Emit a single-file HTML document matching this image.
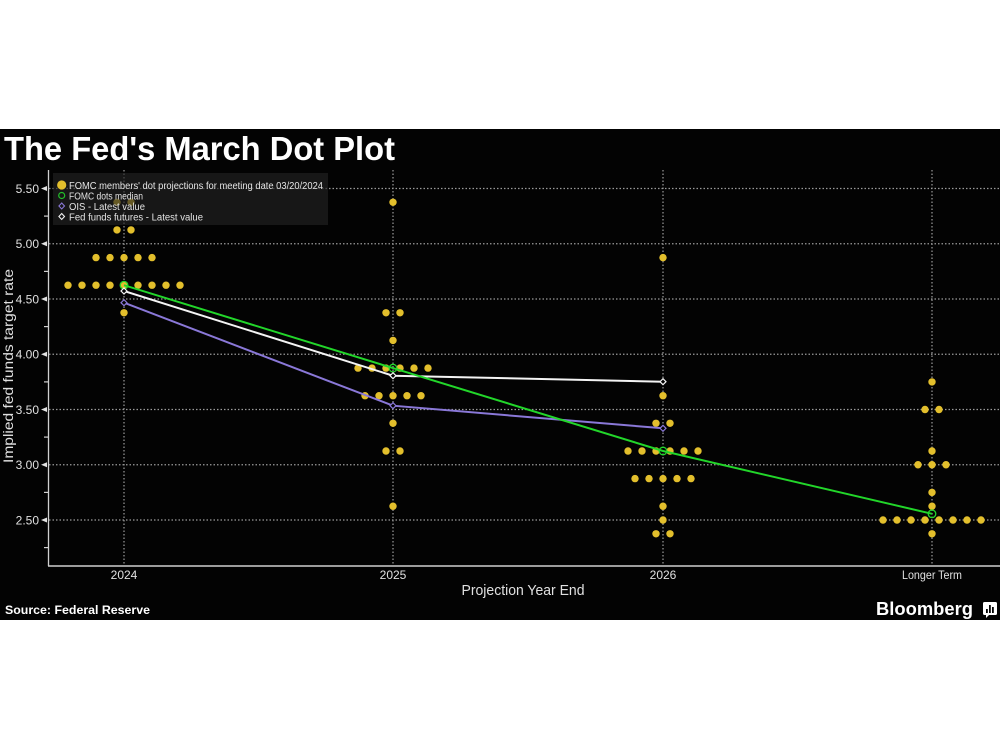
<!DOCTYPE html>
<html>
<head>
<meta charset="utf-8">
<style>
html,body{margin:0;padding:0;background:#fff;}
body{width:1000px;height:750px;overflow:hidden;}
svg{display:block;}
</style>
</head>
<body>
<svg width="1000" height="750" viewBox="0 0 1000 750" xmlns="http://www.w3.org/2000/svg">
  <rect x="0" y="0" width="1000" height="750" fill="#ffffff"/>
  <rect x="0" y="129" width="1000" height="491" fill="#030303"/>

  <!-- Title -->
  <text x="4" y="160" font-family="Liberation Sans, sans-serif" font-weight="bold" font-size="33" fill="#ffffff" textLength="391" lengthAdjust="spacingAndGlyphs">The Fed's March Dot Plot</text>

  <!-- Horizontal gridlines -->
  <g stroke="#9a9a9a" stroke-width="1.2" stroke-dasharray="1.5,2">
    <line x1="49" y1="188.5" x2="1000" y2="188.5"/>
    <line x1="49" y1="243.75" x2="1000" y2="243.75"/>
    <line x1="49" y1="299" x2="1000" y2="299"/>
    <line x1="49" y1="354.25" x2="1000" y2="354.25"/>
    <line x1="49" y1="409.5" x2="1000" y2="409.5"/>
    <line x1="49" y1="464.75" x2="1000" y2="464.75"/>
    <line x1="49" y1="520" x2="1000" y2="520"/>
  </g>
  <!-- Vertical gridlines -->
  <g stroke="#9a9a9a" stroke-width="1.2" stroke-dasharray="1.5,2">
    <line x1="124" y1="170" x2="124" y2="566"/>
    <line x1="393" y1="170" x2="393" y2="566"/>
    <line x1="663" y1="170" x2="663" y2="566"/>
    <line x1="932" y1="170" x2="932" y2="566"/>
  </g>

  <!-- Axes -->
  <line x1="48.5" y1="170" x2="48.5" y2="566" stroke="#d0d0d0" stroke-width="1.3"/>
  <line x1="48" y1="566" x2="1000" y2="566" stroke="#d0d0d0" stroke-width="1.5"/>

  <!-- Y ticks: major -->
  <g fill="#e0e0e0">
    <polygon points="41,188.5 47,186 47,191"/>
    <polygon points="41,243.75 47,241.25 47,246.25"/>
    <polygon points="41,299 47,296.5 47,301.5"/>
    <polygon points="41,354.25 47,351.75 47,356.75"/>
    <polygon points="41,409.5 47,407 47,412"/>
    <polygon points="41,464.75 47,462.25 47,467.25"/>
    <polygon points="41,520 47,517.5 47,522.5"/>
  </g>
  <!-- minor -->
  <g stroke="#d0d0d0" stroke-width="1.2">
    <line x1="44" y1="216.1" x2="48" y2="216.1"/>
    <line x1="44" y1="271.4" x2="48" y2="271.4"/>
    <line x1="44" y1="326.6" x2="48" y2="326.6"/>
    <line x1="44" y1="381.9" x2="48" y2="381.9"/>
    <line x1="44" y1="437.1" x2="48" y2="437.1"/>
    <line x1="44" y1="492.4" x2="48" y2="492.4"/>
    <line x1="44" y1="547.6" x2="48" y2="547.6"/>
  </g>

  <!-- Y labels -->
  <g font-family="Liberation Sans, sans-serif" font-size="12" fill="#e0e0e0" text-anchor="end">
    <text x="39" y="193">5.50</text>
    <text x="39" y="248.2">5.00</text>
    <text x="39" y="303.5">4.50</text>
    <text x="39" y="358.7">4.00</text>
    <text x="39" y="414">3.50</text>
    <text x="39" y="469.2">3.00</text>
    <text x="39" y="524.5">2.50</text>
  </g>
  <text transform="translate(13,366) rotate(-90)" font-family="Liberation Sans, sans-serif" font-size="13.5" fill="#e0e0e0" text-anchor="middle" textLength="194" lengthAdjust="spacingAndGlyphs">Implied fed funds target rate</text>

  <!-- X labels -->
  <g font-family="Liberation Sans, sans-serif" font-size="12" fill="#e0e0e0" text-anchor="middle">
    <text x="124" y="579">2024</text>
    <text x="393" y="579">2025</text>
    <text x="663" y="579">2026</text>
    <text x="932" y="579" textLength="60" lengthAdjust="spacingAndGlyphs">Longer Term</text>
  </g>
  <text x="523" y="595" font-family="Liberation Sans, sans-serif" font-size="15" fill="#e0e0e0" text-anchor="middle" textLength="123" lengthAdjust="spacingAndGlyphs">Projection Year End</text>

  <!-- Dots -->
  <g fill="#e3bf2c">
    <!-- 2024 -->
    <circle cx="117" cy="202.3" r="3.7"/><circle cx="131" cy="202.3" r="3.7"/>
    <circle cx="117" cy="229.9" r="3.7"/><circle cx="131" cy="229.9" r="3.7"/>
    <circle cx="96" cy="257.6" r="3.7"/><circle cx="110" cy="257.6" r="3.7"/><circle cx="124" cy="257.6" r="3.7"/><circle cx="138" cy="257.6" r="3.7"/><circle cx="152" cy="257.6" r="3.7"/>
    <circle cx="68" cy="285.2" r="3.7"/><circle cx="82" cy="285.2" r="3.7"/><circle cx="96" cy="285.2" r="3.7"/><circle cx="110" cy="285.2" r="3.7"/><circle cx="124" cy="285.2" r="3.7"/><circle cx="138" cy="285.2" r="3.7"/><circle cx="152" cy="285.2" r="3.7"/><circle cx="166" cy="285.2" r="3.7"/><circle cx="180" cy="285.2" r="3.7"/>
    <circle cx="124" cy="312.8" r="3.7"/>
    <!-- 2025 -->
    <circle cx="393" cy="202.3" r="3.7"/>
    <circle cx="386" cy="312.8" r="3.7"/><circle cx="400" cy="312.8" r="3.7"/>
    <circle cx="393" cy="340.4" r="3.7"/>
    <circle cx="358" cy="368.1" r="3.7"/><circle cx="372" cy="368.1" r="3.7"/><circle cx="386" cy="368.1" r="3.7"/><circle cx="400" cy="368.1" r="3.7"/><circle cx="414" cy="368.1" r="3.7"/><circle cx="428" cy="368.1" r="3.7"/>
    <circle cx="365" cy="395.7" r="3.7"/><circle cx="379" cy="395.7" r="3.7"/><circle cx="393" cy="395.7" r="3.7"/><circle cx="407" cy="395.7" r="3.7"/><circle cx="421" cy="395.7" r="3.7"/>
    <circle cx="393" cy="423.3" r="3.7"/>
    <circle cx="386" cy="451" r="3.7"/><circle cx="400" cy="451" r="3.7"/>
    <circle cx="393" cy="506.2" r="3.7"/>
    <!-- 2026 -->
    <circle cx="663" cy="257.6" r="3.7"/>
    <circle cx="663" cy="395.7" r="3.7"/>
    <circle cx="656" cy="423.3" r="3.7"/><circle cx="670" cy="423.3" r="3.7"/>
    <circle cx="628" cy="451" r="3.7"/><circle cx="642" cy="451" r="3.7"/><circle cx="656" cy="451" r="3.7"/><circle cx="670" cy="451" r="3.7"/><circle cx="684" cy="451" r="3.7"/><circle cx="698" cy="451" r="3.7"/>
    <circle cx="635" cy="478.6" r="3.7"/><circle cx="649" cy="478.6" r="3.7"/><circle cx="663" cy="478.6" r="3.7"/><circle cx="677" cy="478.6" r="3.7"/><circle cx="691" cy="478.6" r="3.7"/>
    <circle cx="663" cy="506.2" r="3.7"/>
    <circle cx="663" cy="520" r="3.7"/>
    <circle cx="656" cy="533.8" r="3.7"/><circle cx="670" cy="533.8" r="3.7"/>
    <!-- Longer term -->
    <circle cx="932" cy="381.9" r="3.7"/>
    <circle cx="925" cy="409.5" r="3.7"/><circle cx="939" cy="409.5" r="3.7"/>
    <circle cx="932" cy="451" r="3.7"/>
    <circle cx="918" cy="464.75" r="3.7"/><circle cx="932" cy="464.75" r="3.7"/><circle cx="946" cy="464.75" r="3.7"/>
    <circle cx="932" cy="492.4" r="3.7"/>
    <circle cx="932" cy="506.2" r="3.7"/>
    <circle cx="883" cy="520" r="3.7"/><circle cx="897" cy="520" r="3.7"/><circle cx="911" cy="520" r="3.7"/><circle cx="925" cy="520" r="3.7"/><circle cx="939" cy="520" r="3.7"/><circle cx="953" cy="520" r="3.7"/><circle cx="967" cy="520" r="3.7"/><circle cx="981" cy="520" r="3.7"/>
    <circle cx="932" cy="533.8" r="3.7"/>
  </g>

  <!-- Lines -->
  <polyline points="124,302.7 393,405.7 663,428.3" fill="none" stroke="#8a78d8" stroke-width="2"/>
  <polyline points="124,291 393,375.7 663,381.7" fill="none" stroke="#f4f4f4" stroke-width="2"/>
  <polyline points="124,285.2 393,368.1 663,451 932,513.8" fill="none" stroke="#22d62a" stroke-width="2"/>

  <!-- Markers -->
  <g fill="none" stroke="#22d62a" stroke-width="1.3">
    <circle cx="124" cy="285.2" r="3.8"/>
    <circle cx="393" cy="368.1" r="3.8"/>
    <circle cx="663" cy="451" r="3.8"/>
    <circle cx="932" cy="513.8" r="3.8"/>
  </g>
  <g fill="#030303" stroke="#8a78d8" stroke-width="1.2">
    <polygon points="124,299.7 127,302.7 124,305.7 121,302.7"/>
    <polygon points="393,402.7 396,405.7 393,408.7 390,405.7"/>
    <polygon points="663,425.3 666,428.3 663,431.3 660,428.3"/>
  </g>
  <g fill="#030303" stroke="#f4f4f4" stroke-width="1.2">
    <polygon points="124,288 127,291 124,294 121,291"/>
    <polygon points="393,372.7 396,375.7 393,378.7 390,375.7"/>
    <polygon points="663,378.7 666,381.7 663,384.7 660,381.7"/>
  </g>

  <!-- Legend -->
  <rect x="53" y="173" width="275" height="52" fill="#222222" fill-opacity="0.65"/>
  <circle cx="61.7" cy="185" r="4.6" fill="#e3bf2c"/>
  <circle cx="61.7" cy="195.5" r="3" fill="none" stroke="#22c02a" stroke-width="1.2"/>
  <polygon points="61.7,203 64.5,206 61.7,209 58.9,206" fill="none" stroke="#8a78d8" stroke-width="1.1"/>
  <polygon points="61.7,213.5 64.5,216.5 61.7,219.5 58.9,216.5" fill="none" stroke="#f0f0f0" stroke-width="1.1"/>
  <g font-family="Liberation Sans, sans-serif" font-size="10" fill="#e4e4e4">
    <text x="69" y="189" textLength="254" lengthAdjust="spacingAndGlyphs">FOMC members' dot projections for meeting date 03/20/2024</text>
    <text x="69" y="199.5" textLength="74" lengthAdjust="spacingAndGlyphs">FOMC dots median</text>
    <text x="69" y="210" textLength="76" lengthAdjust="spacingAndGlyphs">OIS - Latest value</text>
    <text x="69" y="220.5" textLength="134" lengthAdjust="spacingAndGlyphs">Fed funds futures - Latest value</text>
  </g>

  <!-- Footer -->
  <text x="5" y="614" font-family="Liberation Sans, sans-serif" font-weight="bold" font-size="12" fill="#ffffff" textLength="145" lengthAdjust="spacingAndGlyphs">Source: Federal Reserve</text>
  <text x="876" y="615" font-family="Liberation Sans, sans-serif" font-weight="bold" font-size="18" fill="#ffffff" textLength="97" lengthAdjust="spacingAndGlyphs">Bloomberg</text>
  <g>
    <rect x="983" y="602" width="14" height="13" rx="1.5" fill="#ffffff"/>
    <polygon points="986,615 989,615 986,618" fill="#ffffff"/>
    <rect x="986" y="609" width="1.8" height="4" fill="#030303"/>
    <rect x="989" y="605" width="1.8" height="8" fill="#030303"/>
    <rect x="992" y="607" width="1.8" height="6" fill="#030303"/>
  </g>
</svg>
</body>
</html>
